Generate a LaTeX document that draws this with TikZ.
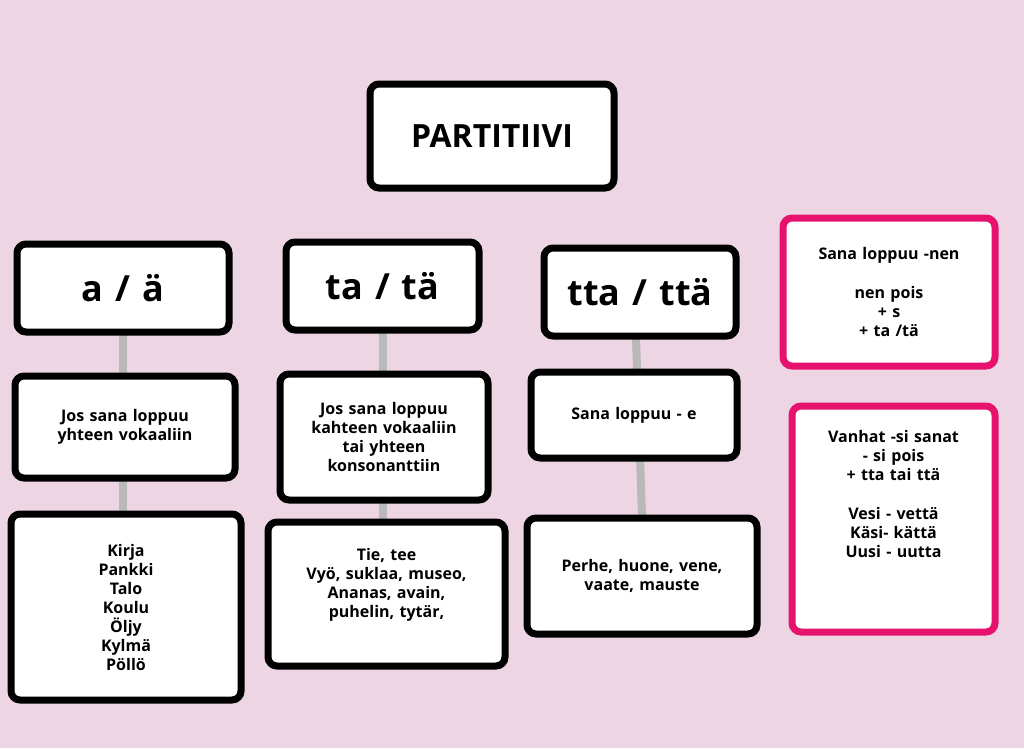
\documentclass[tikz,border=0pt]{standalone}
\usepackage{fontspec}
\setmainfont{Open Sans}
\begin{document}
\begin{tikzpicture}[x=1pt,y=-1pt,
  box/.style={draw=black,line width=7pt,fill=white,rounded corners=9pt,align=center,font=\bfseries\fontsize{16}{19}\selectfont},
  pbox/.style={box,draw=magenta!80!red},
  big/.style={font=\bfseries\fontsize{36}{40}\selectfont},
  link/.style={draw=gray!55,line width=8pt}]
\definecolor{magenta}{HTML}{E0168A}
\fill[fill={rgb,255:red,237;green,213;blue,227}] (0,0) rectangle (1024,748);
\useasboundingbox (0,0) rectangle (1024,748);
\newcommand\bx[7]{\node[#1,minimum width=#4-#2,minimum height=#5-#3,text width=#4-#2-20] (#6) at ({(#2+#4)/2},{(#3+#5)/2}) {#7};}
% connectors first
\coordinate (c1) at (123,334); \coordinate (c2) at (123,512);
\coordinate (d1) at (383,332); \coordinate (d2) at (383,520);
\coordinate (e1) at (636,338); \coordinate (e2) at (642,516);
\draw[link] (c1) -- (c2);
\draw[link] (d1) -- (d2);
\draw[link] (e1) -- (e2);
\bx{box}{370}{84}{614}{188}{top}{\fontsize{32}{36}\selectfont PARTITIIVI}
\bx{box,big}{17}{244}{229}{332}{a}{a / ä}
\bx{box,big}{286}{242}{479}{330}{ta}{ta / tä}
\bx{box,big}{544}{248}{736}{336}{tta}{tta / ttä}
\bx{pbox}{783}{218}{995}{366}{p1}{Sana loppuu -nen\\[20pt]nen pois\\+ s\\+ ta /tä\\[4pt]}
\bx{pbox}{792}{406}{995}{632}{p2}{Vanhat -si sanat\\- si pois\\+ tta tai ttä\\[20pt]Vesi - vettä\\Käsi- kättä\\Uusi - uutta\\\rule{0pt}{50pt}}
\bx{box}{15}{376}{235}{478}{a1}{Jos sana loppuu\\yhteen vokaaliin}
\bx{box}{280}{374}{488}{500}{t1}{Jos sana loppuu\\kahteen vokaaliin\\tai yhteen\\konsonanttiin}
\bx{box}{531}{372}{737}{458}{e1b}{Sana loppuu - e}
\bx{box}{11}{514}{241}{700}{a2}{Kirja\\Pankki\\Talo\\Koulu\\Öljy\\Kylmä\\Pöllö}
\bx{box}{268}{522}{505}{666}{t2}{Tie, tee\\Vyö, suklaa, museo,\\Ananas, avain,\\puhelin, tytär,\\\rule{0pt}{18pt}}
\bx{box}{527}{518}{757}{634}{e2b}{Perhe, huone, vene,\\vaate, mauste\\[6pt]}
\end{tikzpicture}
\end{document}
